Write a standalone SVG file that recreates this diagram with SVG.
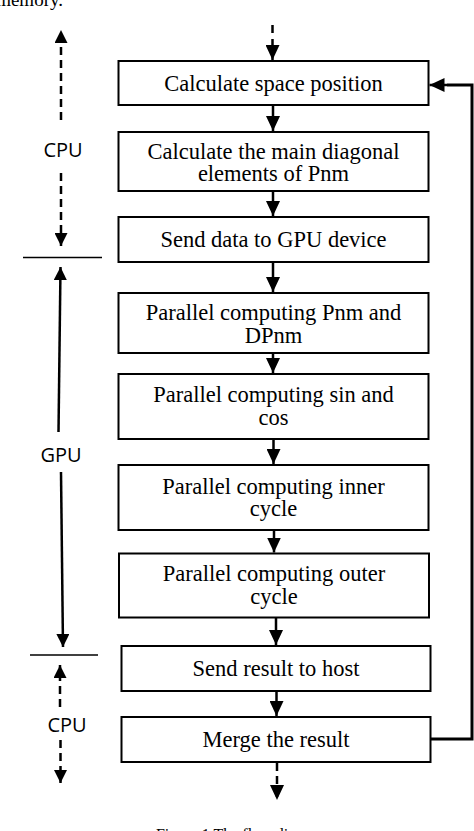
<svg xmlns="http://www.w3.org/2000/svg" width="474" height="831" viewBox="0 0 474 831">
<style>
.box{fill:#fff;stroke:#000;stroke-width:2}
.t{font-family:"Liberation Serif","Times New Roman",serif;font-size:22.5px;fill:#000;text-anchor:middle}
.lbl{font-family:"Open Sans","DejaVu Sans",sans-serif;font-size:20px;fill:#000;text-anchor:middle}
.c{stroke:#000;stroke-width:2.5;fill:none}
.d{stroke:#000;stroke-width:2.5;fill:none;stroke-dasharray:8,5}
.fb{stroke:#000;stroke-width:3;fill:none}
.sep{stroke:#000;stroke-width:1.5}
</style>
<defs>
<marker id="ah" markerUnits="userSpaceOnUse" markerWidth="15" markerHeight="14" refX="15" refY="7" orient="auto" viewBox="0 0 15 14">
<path d="M0,0 L15,7 L0,14 z" fill="#000"/>
</marker>
<marker id="ahs" markerUnits="userSpaceOnUse" markerWidth="13" markerHeight="13" refX="13" refY="6.5" orient="auto" viewBox="0 0 13 13">
<path d="M0,0 L13,6.5 L0,13 z" fill="#000"/>
</marker>
</defs>
<rect width="474" height="831" fill="#fff"/>
<text x="63" y="6" font-family="Liberation Serif, serif" font-size="19" text-anchor="end">memory.</text>
<text x="242" y="840" font-family="Liberation Serif, serif" font-size="16" text-anchor="middle">Figure 1   The flow diagram</text>

<g id="b1"><rect class="box" x="118.5" y="61" width="310" height="44"/><text class="t" x="273.5" y="91">Calculate space position</text></g>
<g id="b2"><rect class="box" x="118.5" y="132" width="310" height="59"/><text class="t" x="273.5" y="159">Calculate the main diagonal</text><text class="t" x="273.5" y="181">elements of Pnm</text></g>
<g id="b3"><rect class="box" x="118.5" y="217" width="310" height="45"/><text class="t" x="273.5" y="247">Send data to GPU device</text></g>
<g id="b4"><rect class="box" x="118.5" y="293" width="310" height="60"/><text class="t" x="273.5" y="320">Parallel computing Pnm and</text><text class="t" x="273.5" y="342.5">DPnm</text></g>
<g id="b5"><rect class="box" x="118.5" y="374" width="310" height="65"/><text class="t" x="273.5" y="402">Parallel computing sin and</text><text class="t" x="273.5" y="425">cos</text></g>
<g id="b6"><rect class="box" x="118.5" y="465" width="310" height="65"/><text class="t" x="273.5" y="493.5">Parallel computing inner</text><text class="t" x="273.5" y="515.5">cycle</text></g>
<g id="b7"><rect class="box" x="119" y="553.5" width="310" height="64"/><text class="t" x="274" y="581">Parallel computing outer</text><text class="t" x="274" y="603.5">cycle</text></g>
<g id="b8"><rect class="box" x="121.5" y="646" width="309" height="45"/><text class="t" x="276" y="676">Send result to host</text></g>
<g id="b9"><rect class="box" x="121.5" y="717" width="309" height="45"/><text class="t" x="276" y="746.5">Merge the result</text></g>

<g id="side">
<text class="lbl" x="63" y="157">CPU</text>
<text class="lbl" x="61" y="462">GPU</text>
<text class="lbl" x="67" y="732">CPU</text>
<line class="sep" x1="23" y1="257.5" x2="102" y2="257.5"/>
<line class="sep" x1="30" y1="655" x2="98" y2="655"/>
</g>

<g id="connectors">
<line class="d" x1="272.5" y1="25" x2="272.5" y2="36"/>
<line class="c" x1="272.5" y1="39" x2="272.5" y2="60" marker-end="url(#ah)"/>
<line class="c" x1="273" y1="105" x2="273" y2="131" marker-end="url(#ah)"/>
<line class="c" x1="273" y1="191" x2="273" y2="216" marker-end="url(#ah)"/>
<line class="c" x1="273" y1="262" x2="273" y2="292" marker-end="url(#ah)"/>
<line class="c" x1="273" y1="353" x2="273" y2="373" marker-end="url(#ah)"/>
<line class="c" x1="273.5" y1="439" x2="273.5" y2="464" marker-end="url(#ah)"/>
<line class="c" x1="274" y1="530" x2="274" y2="552.5" marker-end="url(#ah)"/>
<line class="c" x1="276" y1="618" x2="276" y2="645" marker-end="url(#ah)"/>
<line class="c" x1="276.5" y1="691" x2="276.5" y2="716" marker-end="url(#ah)"/>
<line class="d" x1="277" y1="763" x2="277" y2="800" marker-end="url(#ah)"/>
<polyline class="fb" points="431,739 472,739 472,85 447,85"/>
<line class="c" x1="447" y1="85" x2="429.5" y2="85" marker-end="url(#ah)"/>

<line class="d" x1="61" y1="120" x2="61" y2="30" marker-end="url(#ahs)"/>
<line class="d" x1="61" y1="173" x2="61" y2="246" marker-end="url(#ahs)"/>
<line class="c" stroke-width="2" x1="58.5" y1="432" x2="60.5" y2="267" marker-end="url(#ahs)"/>
<line class="c" stroke-width="2" x1="61" y1="472" x2="63" y2="647" marker-end="url(#ahs)"/>
<line class="d" x1="60" y1="707" x2="60" y2="665" marker-end="url(#ahs)"/>
<line class="d" x1="60.5" y1="740" x2="60.5" y2="783" marker-end="url(#ahs)"/>
</g>
</svg>
